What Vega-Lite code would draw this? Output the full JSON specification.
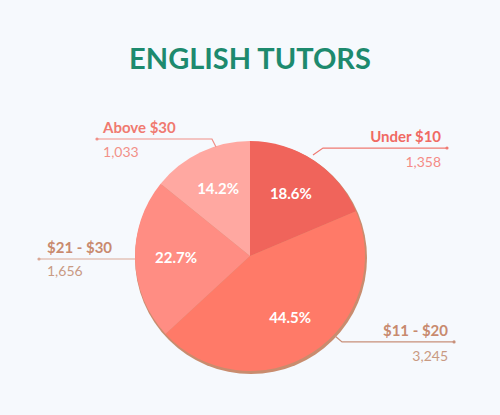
{
  "$schema": "https://vega.github.io/schema/vega-lite/v6.json",
  "description": "English tutors by hourly rate.",
  "width": 500,
  "height": 318,
  "autosize": "none",
  "padding": {"top": 97, "left": 0, "right": 0, "bottom": 0},
  "background": "#f6f9fd",
  "config": {"view": {"stroke": null}, "font": "Lato"},
  "title": {
    "text": "ENGLISH TUTORS",
    "font": "Lato",
    "fontSize": 29,
    "fontWeight": "bold",
    "color": "#1d8a6e",
    "anchor": "middle",
    "frame": "group",
    "baseline": "alphabetic",
    "offset": -1
  },
  "datasets": {
    "slices": [
      {"range": "Under $10", "ord": 1, "count": 1358, "share": 0.186, "side": "right", "tx": 1.647, "ty": 0.983, "vy": 0.767, "ex": 1.698, "ey": 0.931},
      {"range": "$11 - $20", "ord": 2, "count": 3245, "share": 0.445, "side": "right", "tx": 1.707, "ty": -0.69, "vy": -0.905, "ex": 1.759, "ey": -0.741},
      {"range": "$21 - $30", "ord": 3, "count": 1656, "share": 0.227, "side": "left", "tx": -1.75, "ty": 0.026, "vy": -0.172, "ex": -1.819, "ey": -0.026},
      {"range": "Above $30", "ord": 4, "count": 1033, "share": 0.142, "side": "left", "tx": -1.267, "ty": 1.06, "vy": 0.853, "ex": -1.319, "ey": 1.009}
    ],
    "leaders": [
      {"range": "Under $10", "i": 0, "x": 0.543, "y": 0.871},
      {"range": "Under $10", "i": 1, "x": 0.629, "y": 0.931},
      {"range": "Under $10", "i": 2, "x": 1.698, "y": 0.931},
      {"range": "$11 - $20", "i": 0, "x": 0.733, "y": -0.69},
      {"range": "$11 - $20", "i": 1, "x": 0.793, "y": -0.741},
      {"range": "$11 - $20", "i": 2, "x": 1.759, "y": -0.741},
      {"range": "$21 - $30", "i": 0, "x": -0.991, "y": -0.026},
      {"range": "$21 - $30", "i": 1, "x": -1.819, "y": -0.026},
      {"range": "Above $30", "i": 0, "x": -0.293, "y": 0.94},
      {"range": "Above $30", "i": 1, "x": -0.328, "y": 1.009},
      {"range": "Above $30", "i": 2, "x": -1.319, "y": 1.009}
    ]
  },
  "layer": [
    {
      "data": {"values": [{"rim": 1}]},
      "mark": {"type": "arc", "outerRadius": 116, "theta": 0, "theta2": 6.2832, "color": "#c98c6e", "xOffset": 1, "yOffset": 2},
      "encoding": {}
    },
    {
      "data": {"name": "slices"},
      "mark": {"type": "arc", "outerRadius": 115},
      "encoding": {
        "theta": {"field": "count", "type": "quantitative", "stack": true},
        "order": {"field": "ord"},
        "color": {
          "field": "range",
          "type": "nominal",
          "scale": {
            "domain": ["Under $10", "$11 - $20", "$21 - $30", "Above $30"],
            "range": ["#f0645b", "#ff7a68", "#ff8d83", "#ffa8a1"]
          },
          "legend": null
        }
      }
    },
    {
      "data": {"name": "slices"},
      "mark": {"type": "text", "radius": 74, "fontSize": 15, "fontWeight": "bold", "color": "white"},
      "encoding": {
        "theta": {"field": "count", "type": "quantitative", "stack": true},
        "order": {"field": "ord"},
        "text": {"field": "share", "type": "quantitative", "format": ".1%"}
      }
    },
    {
      "data": {"name": "leaders"},
      "mark": {"type": "line", "strokeWidth": 1.2},
      "encoding": {
        "x": {"field": "x", "type": "quantitative", "scale": {"domain": [-2.155, 2.155], "nice": false, "zero": false}, "axis": null},
        "y": {"field": "y", "type": "quantitative", "scale": {"domain": [-1.371, 1.371], "nice": false, "zero": false}, "axis": null},
        "detail": {"field": "range"},
        "order": {"field": "i"},
        "color": {
          "field": "range",
          "type": "nominal",
          "scale": {
            "domain": ["Under $10", "$11 - $20", "$21 - $30", "Above $30"],
            "range": ["#f07a72", "#c8907a", "#d9a895", "#f09088"]
          },
          "legend": null
        }
      }
    },
    {
      "data": {"name": "slices"},
      "mark": {"type": "point", "filled": true, "size": 10, "opacity": 1},
      "encoding": {
        "x": {"field": "ex", "type": "quantitative"},
        "y": {"field": "ey", "type": "quantitative"},
        "color": {
          "field": "range",
          "type": "nominal",
          "scale": {
            "domain": ["Under $10", "$11 - $20", "$21 - $30", "Above $30"],
            "range": ["#f07a72", "#c8907a", "#d9a895", "#f09088"]
          },
          "legend": null
        }
      }
    },
    {
      "data": {"name": "slices"},
      "transform": [{"filter": "datum.side == 'right'"}],
      "layer": [
        {
          "mark": {"type": "text", "align": "right", "baseline": "alphabetic", "fontSize": 15, "fontWeight": "bold"},
          "encoding": {
            "x": {"field": "tx", "type": "quantitative"},
            "y": {"field": "ty", "type": "quantitative"},
            "text": {"field": "range"},
            "color": {
              "field": "range",
              "type": "nominal",
              "scale": {"domain": ["Under $10", "$11 - $20"], "range": ["#f06a63", "#c88a6e"]},
              "legend": null
            }
          }
        },
        {
          "mark": {"type": "text", "align": "right", "baseline": "alphabetic", "fontSize": 14},
          "encoding": {
            "x": {"field": "tx", "type": "quantitative"},
            "y": {"field": "vy", "type": "quantitative"},
            "text": {"field": "count", "type": "quantitative", "format": ","},
            "color": {
              "field": "range",
              "type": "nominal",
              "scale": {"domain": ["Under $10", "$11 - $20"], "range": ["#f58b86", "#c99a82"]},
              "legend": null
            }
          }
        }
      ],
      "resolve": {"scale": {"color": "independent"}}
    },
    {
      "data": {"name": "slices"},
      "transform": [{"filter": "datum.side == 'left'"}],
      "layer": [
        {
          "mark": {"type": "text", "align": "left", "baseline": "alphabetic", "fontSize": 15, "fontWeight": "bold"},
          "encoding": {
            "x": {"field": "tx", "type": "quantitative"},
            "y": {"field": "ty", "type": "quantitative"},
            "text": {"field": "range"},
            "color": {
              "field": "range",
              "type": "nominal",
              "scale": {"domain": ["$21 - $30", "Above $30"], "range": ["#c98a6e", "#f07a70"]},
              "legend": null
            }
          }
        },
        {
          "mark": {"type": "text", "align": "left", "baseline": "alphabetic", "fontSize": 14},
          "encoding": {
            "x": {"field": "tx", "type": "quantitative"},
            "y": {"field": "vy", "type": "quantitative"},
            "text": {"field": "count", "type": "quantitative", "format": ","},
            "color": {
              "field": "range",
              "type": "nominal",
              "scale": {"domain": ["$21 - $30", "Above $30"], "range": ["#c99a84", "#f29088"]},
              "legend": null
            }
          }
        }
      ],
      "resolve": {"scale": {"color": "independent"}}
    }
  ],
  "resolve": {"scale": {"color": "independent"}}
}
